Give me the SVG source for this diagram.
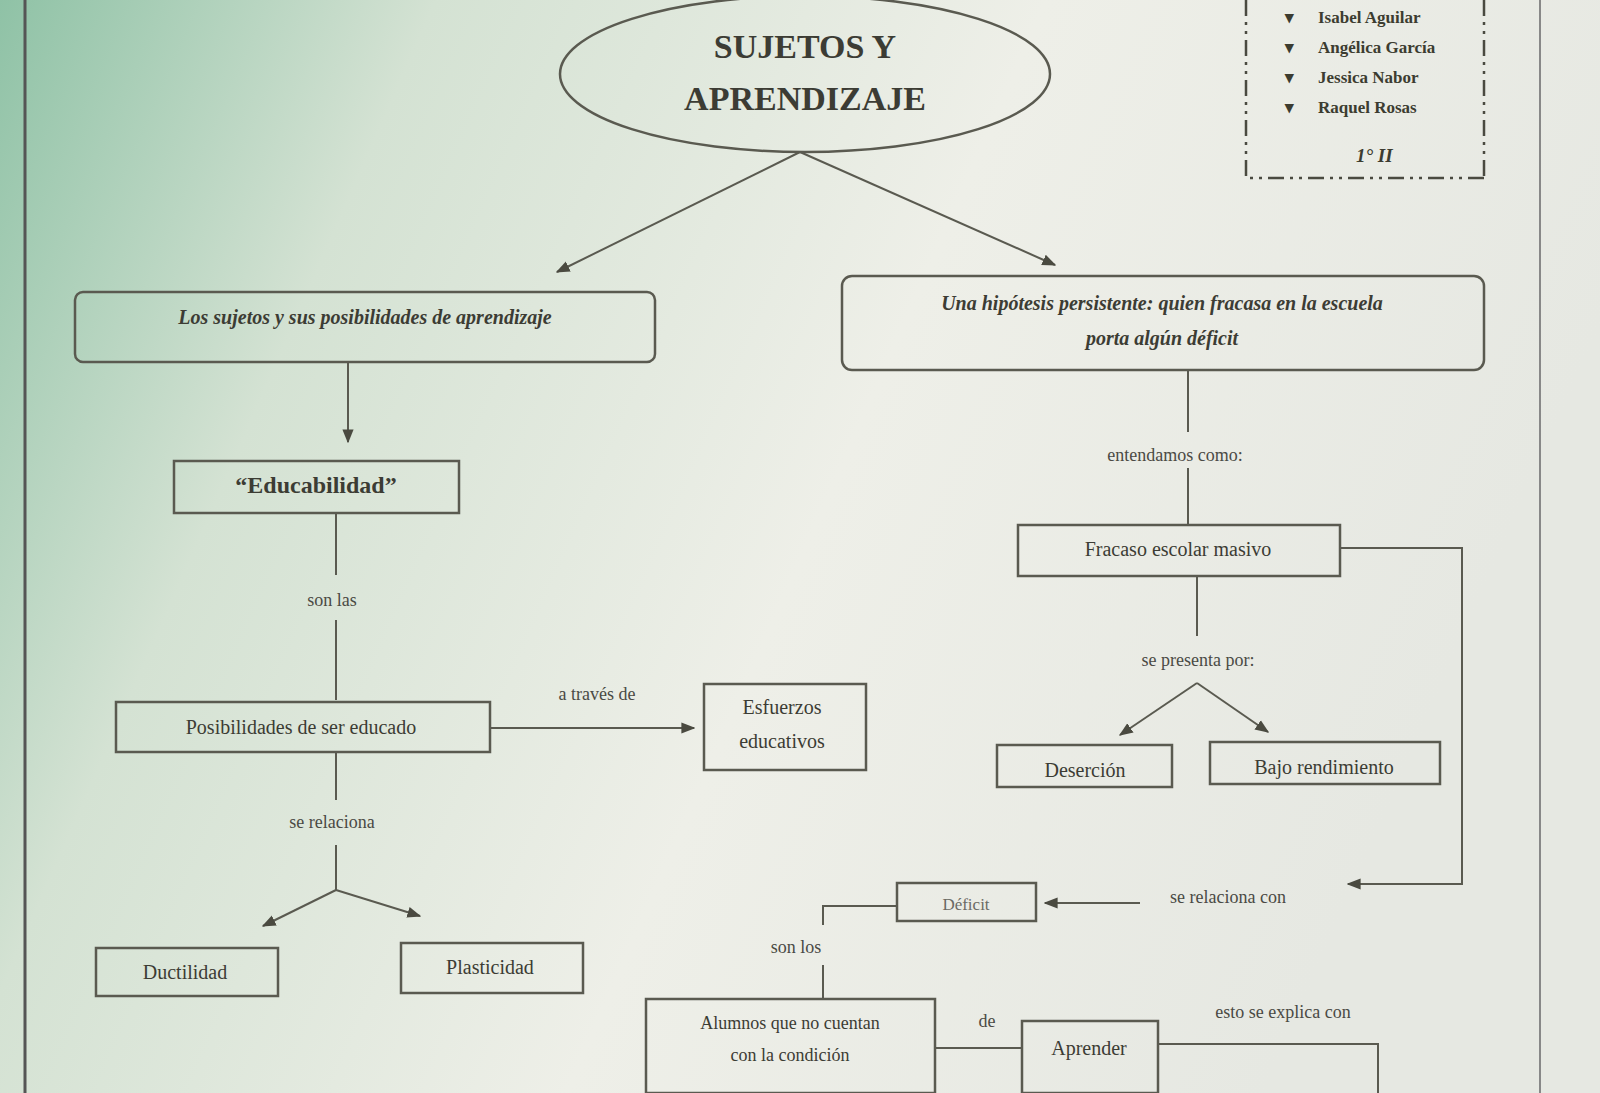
<svg xmlns="http://www.w3.org/2000/svg" width="1600" height="1093" viewBox="0 0 1600 1093">
<defs>
<linearGradient id="bg" x1="0" y1="0" x2="1" y2="0.3">
<stop offset="0" stop-color="#8fc2a6"/>
<stop offset="0.25" stop-color="#d4e2d3"/>
<stop offset="0.6" stop-color="#eeefe8"/>
<stop offset="1" stop-color="#e6e8e2"/>
</linearGradient>
<marker id="ah" viewBox="0 0 10 10" refX="9" refY="5" markerWidth="7" markerHeight="7" orient="auto-start-reverse"><path d="M0,1 L10,5 L0,9 z" fill="#4a4a40"/></marker>
<style>
.b{fill:none;stroke:#5a5a50;stroke-width:2.5}
.r{fill:none;stroke:#5a5a50;stroke-width:2.5}
.c{fill:none;stroke:#5a5a50;stroke-width:2}
.t{font-family:"Liberation Serif",serif;fill:#3c3c34;font-size:20px;text-anchor:middle}
.bi{font-weight:bold;font-style:italic}
.l{font-family:"Liberation Serif",serif;fill:#4a4a44;font-size:18px;text-anchor:middle}
</style>
</defs>
<rect width="1600" height="1093" fill="url(#bg)"/>
<line x1="25" y1="0" x2="25" y2="1093" stroke="#555" stroke-width="3"/>
<line x1="1540" y1="0" x2="1540" y2="1093" stroke="#888" stroke-width="2"/>

<g id="connectors">
<line class="c" x1="800" y1="152" x2="557" y2="272" marker-end="url(#ah)"/>
<line class="c" x1="800" y1="152" x2="1055" y2="265" marker-end="url(#ah)"/>
<line class="c" x1="348" y1="362" x2="348" y2="442" marker-end="url(#ah)"/>
<line class="c" x1="336" y1="513" x2="336" y2="575"/>
<line class="c" x1="336" y1="620" x2="336" y2="700"/>
<line class="c" x1="490" y1="728" x2="694" y2="728" marker-end="url(#ah)"/>
<line class="c" x1="336" y1="752" x2="336" y2="800"/>
<line class="c" x1="336" y1="845" x2="336" y2="890"/>
<line class="c" x1="336" y1="890" x2="263" y2="926" marker-end="url(#ah)"/>
<line class="c" x1="336" y1="890" x2="420" y2="916" marker-end="url(#ah)"/>
<line class="c" x1="1188" y1="370" x2="1188" y2="432"/>
<line class="c" x1="1188" y1="468" x2="1188" y2="525"/>
<line class="c" x1="1197" y1="576" x2="1197" y2="636"/>
<line class="c" x1="1197" y1="683" x2="1120" y2="735" marker-end="url(#ah)"/>
<line class="c" x1="1197" y1="683" x2="1268" y2="732" marker-end="url(#ah)"/>
<polyline class="c" points="1340,548 1462,548 1462,884 1348,884" marker-end="url(#ah)"/>
<line class="c" x1="1140" y1="903" x2="1045" y2="903" marker-end="url(#ah)"/>
<polyline class="c" points="897,906 823,906 823,925"/>
<line class="c" x1="823" y1="965" x2="823" y2="1000"/>
<line class="c" x1="935" y1="1048" x2="1022" y2="1048"/>
<polyline class="c" points="1158,1044 1378,1044 1378,1093"/>
</g>

<g id="title">
<ellipse cx="805" cy="74" rx="245" ry="78" class="b"/>
<text class="t" x="805" y="58" style="font-size:34px;font-weight:bold">SUJETOS Y</text>
<text class="t" x="805" y="110" style="font-size:34px;font-weight:bold">APRENDIZAJE</text>
</g>

<g id="legend">
<path d="M1246,0 V178 H1484 M1484,0 V178" fill="none" stroke="#4a4a40" stroke-width="2.5" stroke-dasharray="16,6,3,6,3,6"/>
<g style="font-family:'Liberation Serif',serif;font-size:17px;fill:#3c3c30;font-weight:bold">
<text x="1285" y="23">▾</text><text x="1318" y="23">Isabel Aguilar</text>
<text x="1285" y="53">▾</text><text x="1318" y="53">Angélica García</text>
<text x="1285" y="83">▾</text><text x="1318" y="83">Jessica Nabor</text>
<text x="1285" y="113">▾</text><text x="1318" y="113">Raquel Rosas</text>
<text x="1356" y="162" font-style="italic" font-size="19px">1° II</text>
</g>
</g>

<g id="n1"><rect class="r" x="75" y="292" width="580" height="70" rx="8"/>
<text class="t bi" x="365" y="324">Los sujetos y sus posibilidades de aprendizaje</text></g>

<g id="n2"><rect class="r" x="842" y="276" width="642" height="94" rx="10"/>
<text class="t bi" x="1162" y="310">Una hipótesis persistente: quien fracasa en la escuela</text>
<text class="t bi" x="1162" y="345">porta algún déficit</text></g>

<g id="n3"><rect class="r" x="174" y="461" width="285" height="52"/>
<text class="t" x="316" y="493" style="font-size:24px;font-weight:bold">“Educabilidad”</text></g>

<g id="n4"><rect class="r" x="116" y="702" width="374" height="50"/>
<text class="t" x="301" y="734">Posibilidades de ser educado</text></g>

<g id="n5"><rect class="r" x="704" y="684" width="162" height="86"/>
<text class="t" x="782" y="714">Esfuerzos</text><text class="t" x="782" y="748">educativos</text></g>

<g id="n6"><rect class="r" x="96" y="948" width="182" height="48"/>
<text class="t" x="185" y="979">Ductilidad</text></g>
<g id="n7"><rect class="r" x="401" y="943" width="182" height="50"/>
<text class="t" x="490" y="974">Plasticidad</text></g>

<g id="n8"><rect class="r" x="1018" y="525" width="322" height="51"/>
<text class="t" x="1178" y="556">Fracaso escolar masivo</text></g>
<g id="n9"><rect class="r" x="997" y="745" width="175" height="42"/>
<text class="t" x="1085" y="777">Deserción</text></g>
<g id="n10"><rect class="r" x="1210" y="742" width="230" height="42"/>
<text class="t" x="1324" y="774">Bajo rendimiento</text></g>

<g id="n11"><rect class="r" x="897" y="883" width="139" height="38"/>
<text class="t" x="966" y="910" style="font-size:17px;fill:#6a6a64">Déficit</text></g>
<g id="n12"><rect class="r" x="646" y="999" width="289" height="94"/>
<text class="t" x="790" y="1029" style="font-size:18px">Alumnos que no cuentan</text>
<text class="t" x="790" y="1061" style="font-size:18px">con la condición</text></g>
<g id="n13"><rect class="r" x="1022" y="1021" width="136" height="72"/>
<text class="t" x="1089" y="1055">Aprender</text></g>

<g id="labels">
<text class="l" x="332" y="606">son las</text>
<text class="l" x="597" y="700">a través de</text>
<text class="l" x="332" y="828">se relaciona</text>
<text class="l" x="1175" y="461">entendamos como:</text>
<text class="l" x="1198" y="666">se presenta por:</text>
<text class="l" x="1228" y="903">se relaciona con</text>
<text class="l" x="796" y="953">son los</text>
<text class="l" x="987" y="1027">de</text>
<text class="l" x="1283" y="1018">esto se explica con</text>
</g>
</svg>
